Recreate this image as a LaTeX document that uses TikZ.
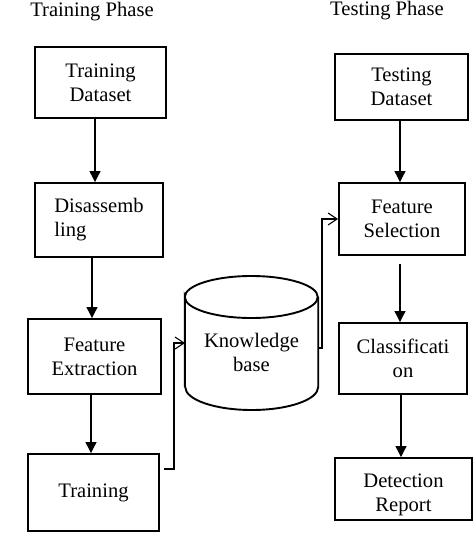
\documentclass[tikz,border=0pt]{standalone}
\usepackage{fontspec}
\setmainfont{Liberation Serif}
\usetikzlibrary{arrows.meta}
\begin{document}
\begin{tikzpicture}[x=1pt,y=-1pt,
  box/.style={draw, line width=1.9pt, align=center, inner sep=0pt},
  arr/.style={line width=1.1pt, -{Triangle[length=11pt,width=11pt]}},
  oarr/.style={line width=1.1pt, -{Straight Barb[length=9pt,width=12pt,line width=1.1pt]}},
  every node/.style={font=\fontsize{20.6}{24}\selectfont}]
\useasboundingbox (0,0) rectangle (474,558);
% titles
\node[anchor=base] (t1) at (92,16) {Training Phase};
\node[anchor=base] (t2) at (387,15) {Testing Phase};
% training column
\node[box, minimum width=131pt, minimum height=71pt] (td) at (100.5,82.5) {Training\\Dataset};
\node[box, minimum width=128pt, minimum height=74pt, align=left] (dis) at (99,220) {Disassemb\\ling};
\node[box, minimum width=133pt, minimum height=75pt] (fe) at (94.5,356.5) {Feature\\Extraction};
\node[box, minimum width=131pt, minimum height=77pt] (tr) at (93.5,492.5) {Training};
% testing column
\node[box, minimum width=133pt, minimum height=66pt] (ted) at (401.5,87) {Testing\\Dataset};
\node[box, minimum width=126pt, minimum height=72pt] (fs) at (402,219) {Feature\\Selection};
\node[box, minimum width=128pt, minimum height=71pt] (cl) at (403,358.5) {Classificati\\on};
\node[box, minimum width=137pt, minimum height=62pt] (dr) at (403.5,489) {};
\node[align=center] (drt) at (403.5,495) {Detection\\Report};
% knowledge base cylinder
\node[minimum width=133pt, minimum height=90pt, inner sep=0pt] (kb) at (251.5,342) {};
\node[align=center] (kbt) at (251.5,352) {Knowledge\\base};
\draw[line width=1.9pt] (kb.west |- 0,387) -- (kb.west |- 0,297)
  arc[start angle=180, end angle=-180, x radius=66.5, y radius=21];
\draw[line width=1.9pt] (kb.east |- 0,297) -- (kb.east |- 0,387)
  arc[start angle=0, end angle=180, x radius=66.5, y radius=23];
\coordinate (kbl) at (185,343);
\coordinate (kbr) at (318,348);
% vertical arrows
\draw[arr] (td.south) ++(-5.5,0) coordinate (a1) -- (a1 |- dis.north);
\draw[arr] (dis.south) ++(-7,0) coordinate (a2) -- (a2 |- fe.north);
\draw[arr] (fe.south) ++(-3.5,0) coordinate (a3) -- (a3 |- tr.north);
\draw[arr] (ted.south) ++(-1.5,0) coordinate (b1) -- (b1 |- fs.north);
\draw[arr] (fs.south) ++(-2,8) coordinate (b2) -- (b2 |- cl.north);
\draw[arr] (cl.south) ++(-2,0) coordinate (b3) -- (b3 |- dr.north);
% connectors through knowledge base
\draw[oarr] (tr.east) ++(4,-23.5) coordinate (c1) -- ++(10,0) |- (kbl);
\draw[oarr] (kbr) -- ++(4,0) |- (fs.west);
\end{tikzpicture}
\end{document}
